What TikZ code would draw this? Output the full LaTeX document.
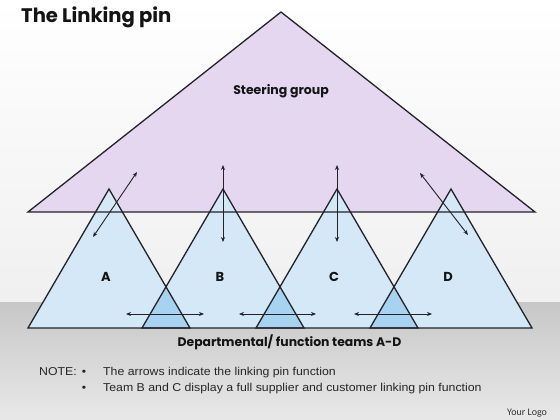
\documentclass[tikz,border=0pt]{standalone}
\usepackage{fontspec}
\setmainfont{Liberation Sans}
\newfontfamily\geo{Poppins}
\newfontfamily\notefont{Liberation Sans}[FakeStretch=1.08]
\newfontfamily\logofont{Carlito}
\usetikzlibrary{arrows.meta}
\definecolor{steer}{RGB}{229,215,240}
\definecolor{team}{RGB}{213,232,247}
\definecolor{overlap}{RGB}{168,211,240}
\definecolor{edge}{RGB}{34,34,40}
\definecolor{txt}{RGB}{20,20,20}
\tikzset{
  outline/.style={draw=edge,line width=1.3pt,line join=miter},
  linkarrow/.style={draw=edge,line width=0.9pt,{Stealth[length=5pt,width=4pt]}-{Stealth[length=5pt,width=4pt]}},
  geolabel/.style={font=\geo\bfseries\fontsize{13}{15}\selectfont,text=txt,inner sep=0pt},
  note/.style={font=\notefont\fontsize{11.4}{13}\selectfont,text=black!85,inner sep=0pt,anchor=base west}
}
\begin{document}
\begin{tikzpicture}[x=1pt,y=-1pt]
\useasboundingbox (0,0) rectangle (560,420);
\shade[top color=white,bottom color=black!6] (0,0) rectangle (560,302);
\shade[top color=black!22,bottom color=black!9] (0,302) rectangle (560,420);
% coordinates
\coordinate (stop) at (281,12);
\coordinate (sleft) at (28,212);
\coordinate (sright) at (535,212);
\coordinate (atop) at (109,189); \coordinate (aleft) at (28,328); \coordinate (aright) at (190,328);
\coordinate (btop) at (223,189); \coordinate (bleft) at (142,328); \coordinate (bright) at (304,328);
\coordinate (ctop) at (337,189); \coordinate (cleft) at (256,328); \coordinate (cright) at (418,328);
\coordinate (dtop) at (451,189); \coordinate (dleft) at (370,328); \coordinate (dright) at (532,328);
\coordinate (ab) at (intersection of atop--aright and btop--bleft);
\coordinate (bc) at (intersection of btop--bright and ctop--cleft);
\coordinate (cd) at (intersection of ctop--cright and dtop--dleft);
% fills
\fill[steer] (stop) -- (sleft) -- (sright) -- cycle;
\fill[team] (atop) -- (aleft) -- (aright) -- cycle;
\fill[team] (btop) -- (bleft) -- (bright) -- cycle;
\fill[team] (ctop) -- (cleft) -- (cright) -- cycle;
\fill[team] (dtop) -- (dleft) -- (dright) -- cycle;
\fill[overlap] (ab) -- (bleft) -- (aright) -- cycle;
\fill[overlap] (bc) -- (cleft) -- (bright) -- cycle;
\fill[overlap] (cd) -- (dleft) -- (cright) -- cycle;
% outlines
\draw[outline] (stop) -- (sleft) -- (sright) -- cycle;
\draw[outline] (atop) -- (aleft) -- (aright) -- cycle;
\draw[outline] (btop) -- (bleft) -- (bright) -- cycle;
\draw[outline] (ctop) -- (cleft) -- (cright) -- cycle;
\draw[outline] (dtop) -- (dleft) -- (dright) -- cycle;
% arrows
\coordinate (a1) at (93,237); \coordinate (a2) at (137,172);
\coordinate (b1) at (223,242); \coordinate (b2) at (223,165);
\coordinate (c1) at (337,242); \coordinate (c2) at (337,165);
\coordinate (d1) at (468,235); \coordinate (d2) at (420,173);
\coordinate (h1l) at (126,314); \coordinate (h1r) at (204,314);
\coordinate (h2l) at (239,314); \coordinate (h2r) at (316,314);
\coordinate (h3l) at (354,314); \coordinate (h3r) at (432,314);
\draw[linkarrow] (a1) -- (a2);
\draw[linkarrow] (b1) -- (b2);
\draw[linkarrow] (c1) -- (c2);
\draw[linkarrow] (d1) -- (d2);
\draw[linkarrow] (h1l) -- (h1r);
\draw[linkarrow] (h2l) -- (h2r);
\draw[linkarrow] (h3l) -- (h3r);
% texts
\node[geolabel,font=\geo\bfseries\fontsize{19.6}{22}\selectfont,anchor=base west] (title) at (21,22.5) {The Linking pin};
\node[geolabel,font=\geo\bfseries\fontsize{12.5}{14}\selectfont,anchor=base] (steering) at (281,94.5) {Steering group};
\node[geolabel,anchor=base] (la) at (106,281) {A};
\node[geolabel,anchor=base] (lb) at (220,281) {B};
\node[geolabel,anchor=base] (lc) at (334,281) {C};
\node[geolabel,anchor=base] (ld) at (448,281) {D};
\node[geolabel,font=\geo\bfseries\fontsize{12.4}{14}\selectfont,anchor=base] (dept) at (289.5,346) {Departmental/ function teams A-D};
\node[note] (notelbl) at (39,375.5) {NOTE:};
\node[note,anchor=base] (bul1) at (84,375.5) {•};
\node[note,anchor=base] (bul2) at (84,391.5) {•};
\node[note] (n1) at (103,375.5) {The arrows indicate the linking pin function};
\node[note] (n2) at (103,391.5) {Team B and C display a full supplier and customer linking pin function};
\node[font=\logofont\fontsize{10}{12}\selectfont,text=black!80,inner sep=0pt,anchor=base west] (logo) at (507,415) {Your Logo};
\end{tikzpicture}
\end{document}
